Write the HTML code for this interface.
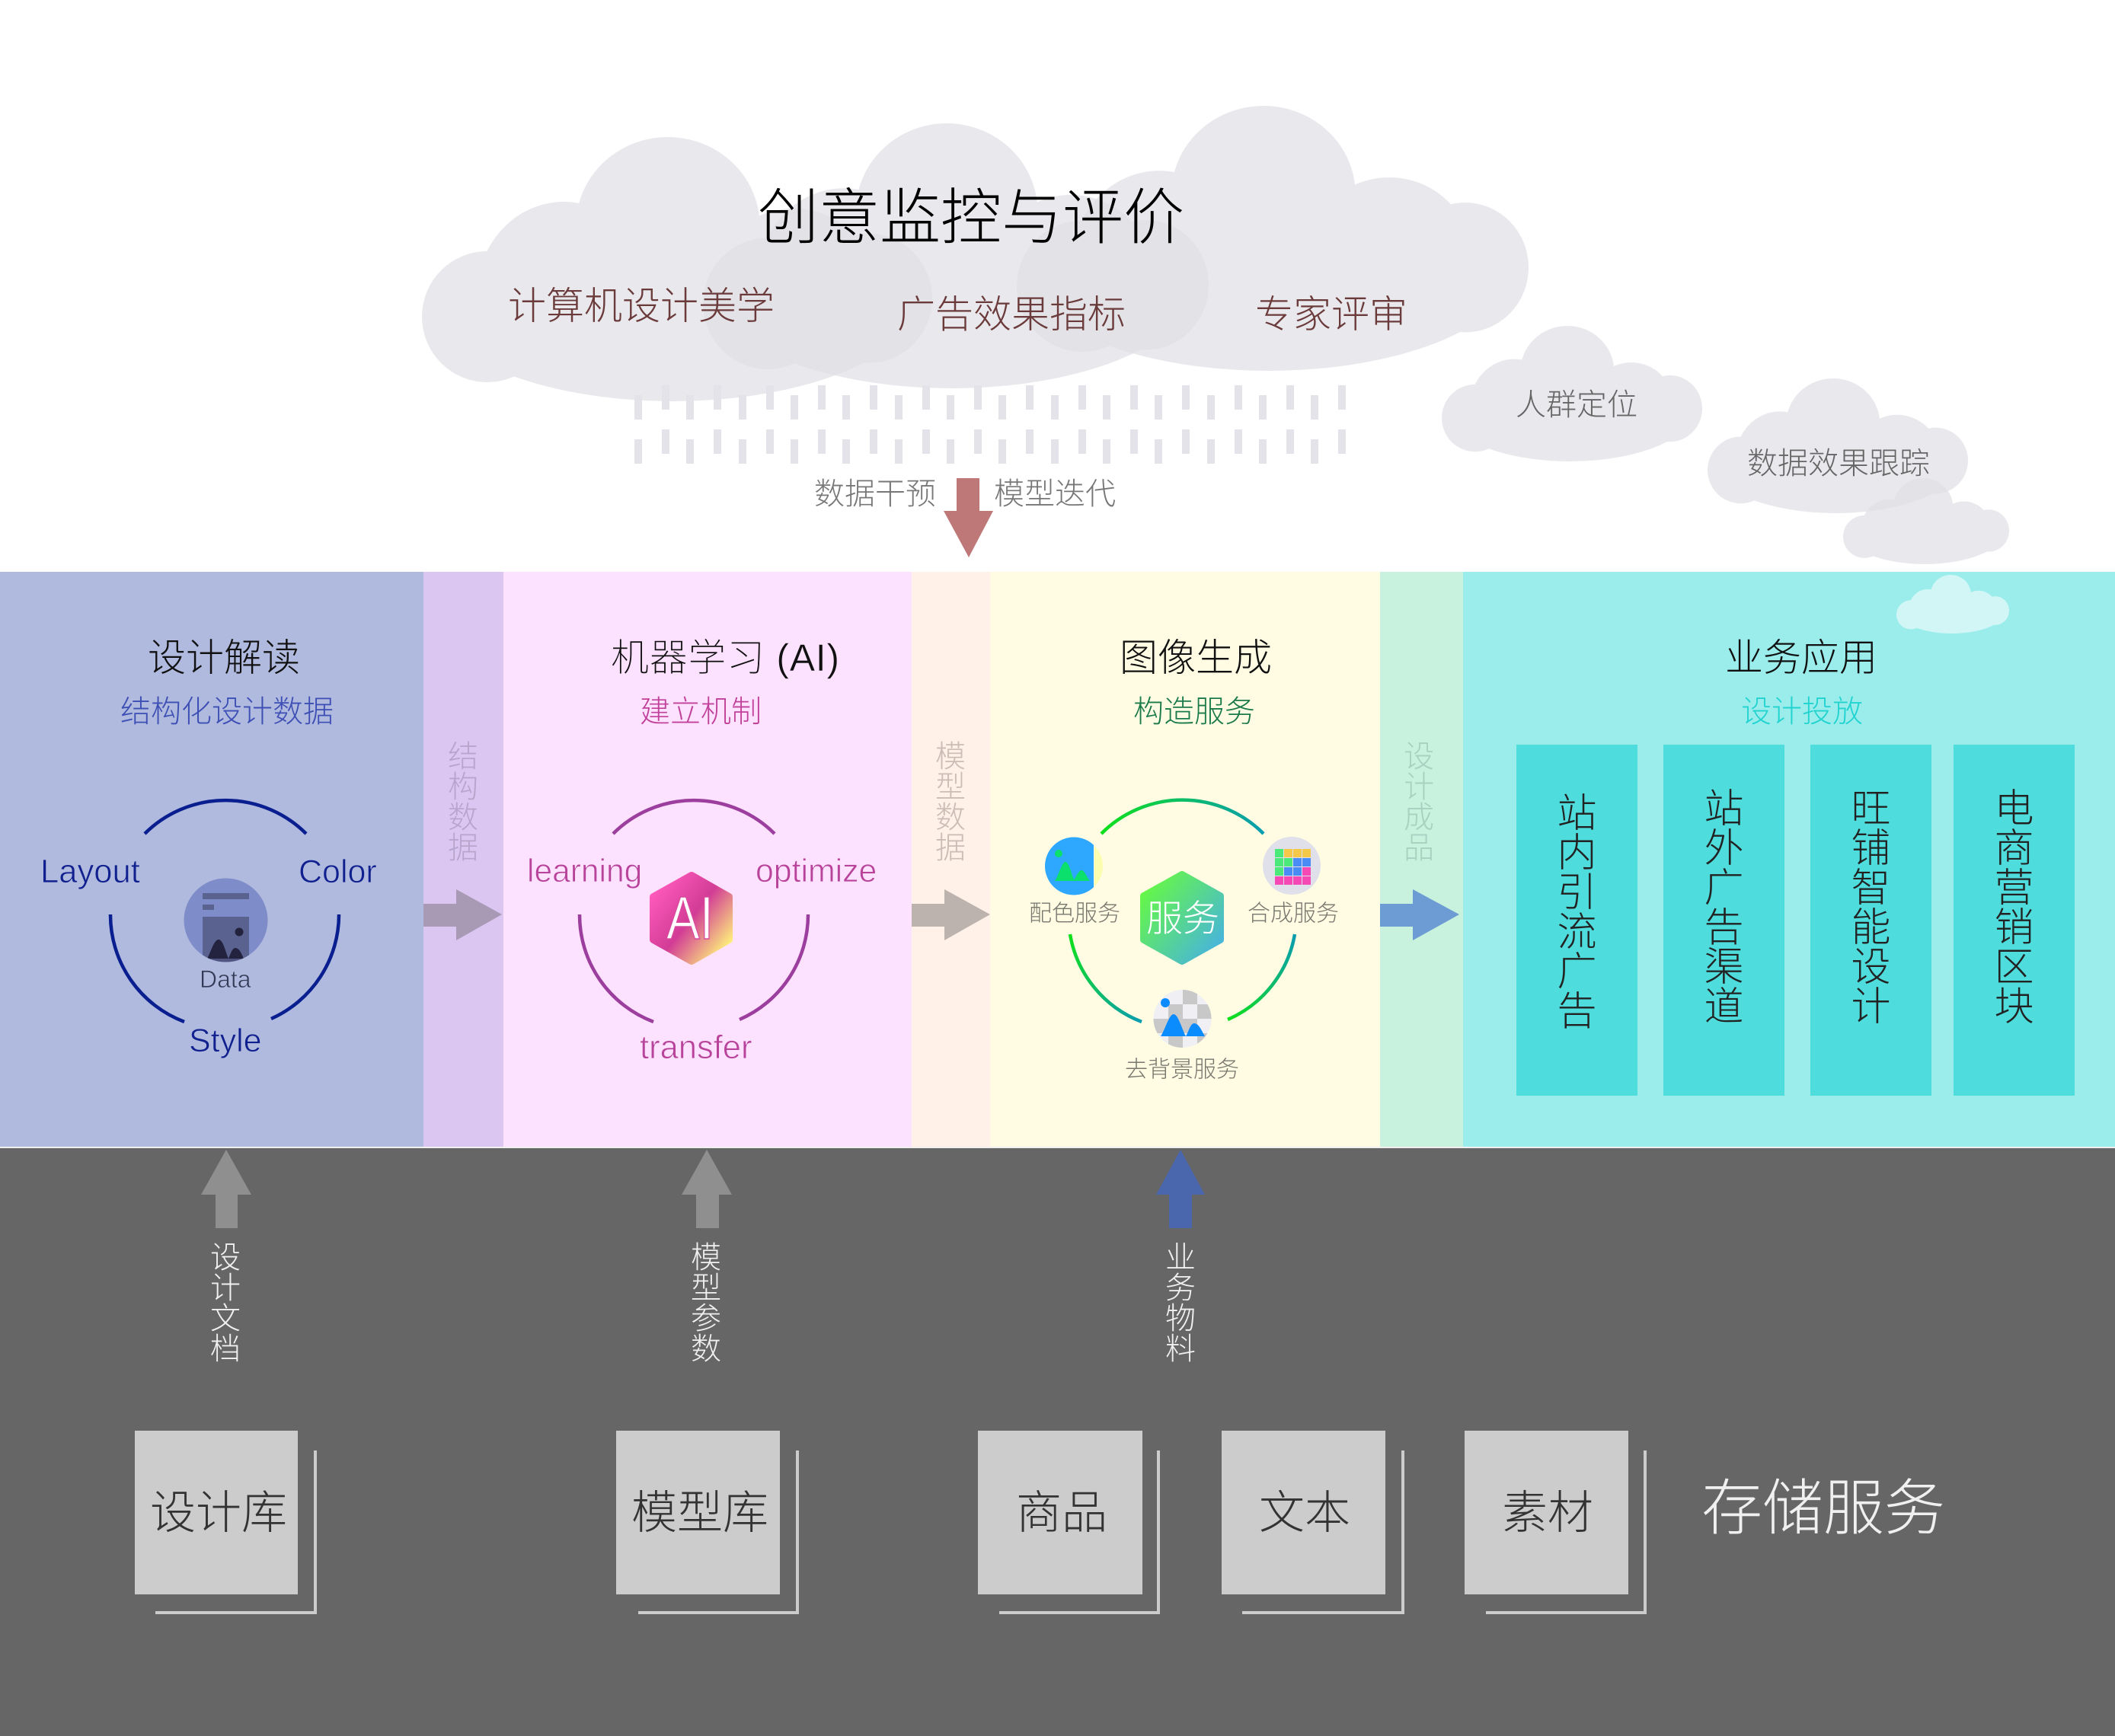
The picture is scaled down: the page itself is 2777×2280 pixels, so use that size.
<!DOCTYPE html>
<html><head><meta charset="utf-8"><style>
html,body{margin:0;padding:0;background:#fff}
svg{display:block}
text{font-family:"Liberation Sans","Noto Sans CJK SC","WenQuanYi Zen Hei",sans-serif;font-weight:300}
.m{text-anchor:middle;dominant-baseline:central}
.v{writing-mode:vertical-rl;text-anchor:start;dominant-baseline:central}
</style></head><body>
<svg xmlns="http://www.w3.org/2000/svg" width="2777" height="2280" viewBox="0 0 2777 2280">
<defs>
<symbol id="c" viewBox="0 0 1000 1000" preserveAspectRatio="none">
<ellipse cx="482" cy="335" rx="180" ry="335"/><ellipse cx="278" cy="595" rx="170" ry="350"/><ellipse cx="128" cy="680" rx="128" ry="248"/><ellipse cx="728" cy="570" rx="160" ry="300"/><ellipse cx="876" cy="610" rx="124" ry="245"/><path d="M8 600A484 400 0 0 0 976 600Z"/>
</symbol>
<linearGradient id="ai" x1="0.05" y1="0.1" x2="0.95" y2="0.9"><stop offset="0" stop-color="#ff5bbd"/><stop offset=".5" stop-color="#d23c96"/><stop offset="1" stop-color="#fff47a"/></linearGradient>
<linearGradient id="sv" x1="0.05" y1="0.1" x2="0.95" y2="0.9"><stop offset="0" stop-color="#66f845"/><stop offset="1" stop-color="#48b4dc"/></linearGradient>
<linearGradient id="a1" x1="0" y1="0" x2="1" y2="0"><stop offset="0" stop-color="#0fe01c"/><stop offset="1" stop-color="#0a9cb0"/></linearGradient>
<linearGradient id="a2" x1="0" y1="0" x2="1" y2="1"><stop offset="0" stop-color="#0fe01c"/><stop offset="1" stop-color="#0a9cb0"/></linearGradient>
<linearGradient id="a3" x1="1" y1="0" x2="0" y2="1"><stop offset="0" stop-color="#0a9cb0"/><stop offset="1" stop-color="#0fe01c"/></linearGradient>
<clipPath id="cd"><circle cx="296.5" cy="1208.5" r="55"/></clipPath>
<clipPath id="c1"><circle cx="1410" cy="1137.5" r="38"/></clipPath>
<clipPath id="c3"><circle cx="1552.5" cy="1338" r="38"/></clipPath>
</defs>

<rect width="2777" height="2280" fill="#fff"/>

<!-- clouds -->
<g fill="#dfdfe5">
<use href="#c" x="554" y="180" width="670" height="347" opacity=".68"/>
<use href="#c" x="923" y="162" width="664" height="348" opacity=".68"/>
<use href="#c" x="1335" y="139" width="672" height="348" opacity=".68"/>
<use href="#c" x="1893" y="428" width="342" height="178" opacity=".68"/>
<use href="#c" x="2242" y="497" width="342" height="177" opacity=".68"/>
<use href="#c" x="2420" y="628" width="218" height="113" opacity=".68"/>
</g>

<!-- rain -->
<g fill="#e3e3e9">
<rect x="833" y="519" width="10" height="32"/><rect x="901" y="519" width="10" height="32"/><rect x="970" y="519" width="10" height="32"/><rect x="1038" y="519" width="10" height="32"/><rect x="1106" y="519" width="10" height="32"/><rect x="1175" y="519" width="10" height="32"/><rect x="1243" y="519" width="10" height="32"/><rect x="1311" y="519" width="10" height="32"/><rect x="1380" y="519" width="10" height="32"/><rect x="1448" y="519" width="10" height="32"/><rect x="1516" y="519" width="10" height="32"/><rect x="1585" y="519" width="10" height="32"/><rect x="1653" y="519" width="10" height="32"/><rect x="1721" y="519" width="10" height="32"/>
<rect x="869" y="506" width="10" height="32"/><rect x="937" y="506" width="10" height="32"/><rect x="1006" y="506" width="10" height="32"/><rect x="1074" y="506" width="10" height="32"/><rect x="1142" y="506" width="10" height="32"/><rect x="1211" y="506" width="10" height="32"/><rect x="1279" y="506" width="10" height="32"/><rect x="1347" y="506" width="10" height="32"/><rect x="1416" y="506" width="10" height="32"/><rect x="1484" y="506" width="10" height="32"/><rect x="1552" y="506" width="10" height="32"/><rect x="1621" y="506" width="10" height="32"/><rect x="1689" y="506" width="10" height="32"/><rect x="1757" y="506" width="10" height="32"/>
<rect x="833" y="577" width="10" height="32"/><rect x="901" y="577" width="10" height="32"/><rect x="970" y="577" width="10" height="32"/><rect x="1038" y="577" width="10" height="32"/><rect x="1106" y="577" width="10" height="32"/><rect x="1175" y="577" width="10" height="32"/><rect x="1243" y="577" width="10" height="32"/><rect x="1311" y="577" width="10" height="32"/><rect x="1380" y="577" width="10" height="32"/><rect x="1448" y="577" width="10" height="32"/><rect x="1516" y="577" width="10" height="32"/><rect x="1585" y="577" width="10" height="32"/><rect x="1653" y="577" width="10" height="32"/><rect x="1721" y="577" width="10" height="32"/>
<rect x="869" y="564" width="10" height="32"/><rect x="937" y="564" width="10" height="32"/><rect x="1006" y="564" width="10" height="32"/><rect x="1074" y="564" width="10" height="32"/><rect x="1142" y="564" width="10" height="32"/><rect x="1211" y="564" width="10" height="32"/><rect x="1279" y="564" width="10" height="32"/><rect x="1347" y="564" width="10" height="32"/><rect x="1416" y="564" width="10" height="32"/><rect x="1484" y="564" width="10" height="32"/><rect x="1552" y="564" width="10" height="32"/><rect x="1621" y="564" width="10" height="32"/><rect x="1689" y="564" width="10" height="32"/><rect x="1757" y="564" width="10" height="32"/>
</g>

<!-- top texts -->
<text class="m" x="1275" y="286" font-size="80" fill="#000">创意监控与评价</text>
<text class="m" x="842" y="402" font-size="50" fill="#6b3a3a">计算机设计美学</text>
<text class="m" x="1328" y="413" font-size="50" fill="#6b3a3a">广告效果指标</text>
<text class="m" x="1748" y="413" font-size="50" fill="#6b3a3a">专家评审</text>
<text class="m" x="2070" y="532" font-size="40" fill="#666">人群定位</text>
<text class="m" x="2414" y="609" font-size="40" fill="#666">数据效果跟踪</text>
<text class="m" x="1149" y="649" font-size="40" fill="#777">数据干预</text>
<text class="m" x="1385" y="649" font-size="40" fill="#777">模型迭代</text>
<polygon points="1256,628 1286,628 1286,671 1304,671 1272,732 1239,671 1256,671" fill="#bf7878"/>

<!-- bands -->
<rect x="0" y="751" width="556" height="755" fill="#b0b9de"/>
<rect x="556" y="751" width="105" height="755" fill="#dac6f0"/>
<rect x="661" y="751" width="536" height="755" fill="#fde2ff"/>
<rect x="1197" y="751" width="103" height="755" fill="#fff0e8"/>
<rect x="1300" y="751" width="512" height="755" fill="#fffce3"/>
<rect x="1812" y="751" width="109" height="755" fill="#c8f2dd"/>
<rect x="1921" y="751" width="856" height="755" fill="#9bedec"/>
<use href="#c" x="2490" y="755" width="148" height="77" fill="#fff" opacity=".55"/>
<rect x="0" y="1506" width="2777" height="2" fill="#f0f0f0"/>
<rect x="0" y="1508" width="2777" height="772" fill="#666"/>

<!-- panel titles -->
<text class="m" x="294" y="864" font-size="50" fill="#111">设计解读</text>
<text class="m" x="298" y="935" font-size="40" fill="#3d4fb5">结构化设计数据</text>
<text class="m" x="952" y="864" font-size="50" fill="#111" textLength="300" stroke="#fde2ff" stroke-width=".5">机器学习 (AI)</text>
<text class="m" x="920" y="935" font-size="40" fill="#c0409a">建立机制</text>
<text class="m" x="1570" y="864" font-size="50" fill="#111">图像生成</text>
<text class="m" x="1568" y="935" font-size="40" fill="#1a7a4a">构造服务</text>
<text class="m" x="2365" y="864" font-size="50" fill="#111">业务应用</text>
<text class="m" x="2366" y="935" font-size="40" fill="#22d3d0">设计投放</text>

<!-- band vertical labels and arrows -->
<text class="v" x="604" y="972" font-size="40" fill="#b8a5cc">结构数据</text>
<text class="v" x="1244" y="972" font-size="40" fill="#c9bdb5">模型数据</text>
<text class="v" x="1859" y="972" font-size="40" fill="#a7d1c0">设计成品</text>
<polygon points="556,1187 599,1187 599,1168 659,1201 599,1235 599,1217 556,1217" fill="#a89ab5"/>
<polygon points="1197,1187 1240,1187 1240,1168 1300,1201 1240,1235 1240,1217 1197,1217" fill="#bcb3ae"/>
<polygon points="1812,1187 1855,1187 1855,1168 1916,1201 1855,1235 1855,1217 1812,1217" fill="#6d9bd3"/>

<!-- panel 1 -->
<g fill="none" stroke="#0a1f8f" stroke-width="4.5">
<path d="M190 1095A150 150 0 0 1 402 1095"/><path d="M145 1201A150 150 0 0 0 242 1342"/><path d="M445 1201A150 150 0 0 1 356 1338"/>
</g>
<circle cx="296.5" cy="1208.5" r="55" fill="#7e8cc9"/>
<g clip-path="url(#cd)">
<rect x="266" y="1173" width="61" height="8" fill="#5a6290"/><rect x="266" y="1188" width="15" height="7" fill="#5a6290"/><rect x="266" y="1204" width="61" height="56" fill="#5a6290"/>
<rect x="266" y="1259" width="61" height="6" fill="#4f5580"/>
<circle cx="314" cy="1224" r="5.5" fill="#23233f"/>
<path d="M272 1259C277 1250 281 1234 287 1234C293 1234 296 1250 300 1259Z" fill="#23233f"/><path d="M300 1259C303 1252 305 1245 309 1245C314 1245 317 1252 320 1259Z" fill="#23233f"/>
</g>
<g stroke="#b0b9de" stroke-width=".8">
<text x="53" y="1159" font-size="43.6" fill="#10218f">Layout</text>
<text x="392" y="1159" font-size="43" fill="#10218f">Color</text>
<text x="248" y="1381" font-size="43" fill="#10218f">Style</text>
<text x="262" y="1297" font-size="32" fill="#333a55" stroke-width=".7">Data</text>
</g>

<!-- panel 2 -->
<g fill="none" stroke="#9c3e9e" stroke-width="4.5">
<path d="M805 1095A150 150 0 0 1 1017 1095"/><path d="M761 1201A150 150 0 0 0 858 1342"/><path d="M1061 1201A150 150 0 0 1 971 1339"/>
</g>
<polygon points="908,1150 957,1178 957,1234 908,1262 858,1234 858,1178" fill="url(#ai)" stroke="url(#ai)" stroke-width="10" stroke-linejoin="round"/>
<text x="875" y="1233" font-size="80" fill="#fff" textLength="62" lengthAdjust="spacingAndGlyphs" stroke="#d84a9c" stroke-width="1.5">AI</text>
<g stroke="#fde2ff" stroke-width=".8" fill="#b8439a">
<text x="692" y="1158" font-size="42.5">learning</text>
<text x="992" y="1158" font-size="42.8">optimize</text>
<text x="840" y="1390" font-size="43.5">transfer</text>
</g>

<!-- panel 3 -->
<g fill="none" stroke-width="4.5">
<path d="M1446 1095A150 150 0 0 1 1659 1095" stroke="url(#a1)"/><path d="M1405 1227A150 150 0 0 0 1499 1342" stroke="url(#a2)"/><path d="M1700 1227A150 150 0 0 1 1612 1339" stroke="url(#a3)"/>
</g>
<polygon points="1552,1149 1602,1177 1602,1234 1552,1262 1502,1234 1502,1177" fill="url(#sv)" stroke="url(#sv)" stroke-width="10" stroke-linejoin="round"/>
<text class="m" x="1553" y="1207" font-size="48" fill="#fff">服务</text>
<g clip-path="url(#c1)">
<rect x="1372" y="1099" width="64" height="77" fill="#2ea8ff"/><rect x="1437" y="1099" width="12" height="77" fill="#fdfdb0"/>
<circle cx="1390" cy="1121" r="5" fill="#0bdf6c"/>
<path d="M1385 1157C1390 1150 1394 1132 1399 1132C1404 1132 1407 1150 1411 1157Z" fill="#0bdf6c"/><path d="M1409 1157C1413 1152 1416 1143 1420 1143C1424 1143 1427 1152 1431 1157Z" fill="#0bdf6c"/>
</g>
<circle cx="1696" cy="1137" r="38" fill="#e0e0ea"/>
<g>
<rect x="1674" y="1115" width="11" height="11" fill="#4be87a"/><rect x="1686" y="1115" width="11" height="11" fill="#f5c84a"/><rect x="1698" y="1115" width="11" height="11" fill="#f5c84a"/><rect x="1710" y="1115" width="11" height="11" fill="#f5c84a"/>
<rect x="1674" y="1127" width="11" height="11" fill="#4be87a"/><rect x="1686" y="1127" width="11" height="11" fill="#4be87a"/><rect x="1698" y="1127" width="11" height="11" fill="#4a8cf5"/><rect x="1710" y="1127" width="11" height="11" fill="#4a8cf5"/>
<rect x="1674" y="1139" width="11" height="11" fill="#4be87a"/><rect x="1686" y="1139" width="11" height="11" fill="#4a8cf5"/><rect x="1698" y="1139" width="11" height="11" fill="#4a8cf5"/><rect x="1710" y="1139" width="11" height="11" fill="#f54ab5"/>
<rect x="1674" y="1151" width="11" height="11" fill="#f54ab5"/><rect x="1686" y="1151" width="11" height="11" fill="#f54ab5"/><rect x="1698" y="1151" width="11" height="11" fill="#f54ab5"/><rect x="1710" y="1151" width="11" height="11" fill="#f54ab5"/>
</g>
<g clip-path="url(#c3)">
<rect x="1514" y="1300" width="77" height="76" fill="#f0f0f4"/>
<g fill="#c8c8c8"><rect x="1553" y="1300" width="19" height="19"/><rect x="1534" y="1319" width="19" height="19"/><rect x="1572" y="1319" width="19" height="19"/><rect x="1514" y="1338" width="58" height="19"/><rect x="1534" y="1357" width="19" height="19"/><rect x="1572" y="1357" width="19" height="19"/></g>
<circle cx="1530" cy="1317" r="6" fill="#0a8cff"/>
<path d="M1524 1361C1530 1352 1535 1332 1541 1332C1547 1332 1552 1352 1557 1361Z" fill="#0a8cff"/><path d="M1557 1361C1561 1354 1563 1344 1568 1344C1574 1344 1578 1354 1582 1361Z" fill="#0a8cff"/>
</g>
<text class="m" x="1411" y="1200" font-size="30" fill="#77776e">配色服务</text>
<text class="m" x="1698" y="1200" font-size="30" fill="#77776e">合成服务</text>
<text class="m" x="1552" y="1405" font-size="30" fill="#77776e">去背景服务</text>

<!-- panel 4 -->
<g fill="#4edcdc">
<rect x="1991" y="978" width="159" height="461"/><rect x="2184" y="978" width="159" height="461"/><rect x="2377" y="978" width="159" height="461"/><rect x="2565" y="978" width="159" height="461"/>
</g>
<text class="v" x="2065" y="1040" font-size="52" fill="#222">站内引流广告</text>
<text class="v" x="2258" y="1034" font-size="52" fill="#222">站外广告渠道</text>
<text class="v" x="2451" y="1034" font-size="52" fill="#222">旺铺智能设计</text>
<text class="v" x="2639" y="1034" font-size="52" fill="#222">电商营销区块</text>

<!-- up arrows -->
<polygon points="297,1510 330,1569 312,1569 312,1613 283,1613 283,1569 264,1569" fill="#8f8f8f"/>
<polygon points="928,1510 961,1569 944,1569 944,1613 914,1613 914,1569 895,1569" fill="#8f8f8f"/>
<polygon points="1550,1510 1582,1569 1565,1569 1565,1613 1535,1613 1535,1569 1518,1569" fill="#4a66ad"/>
<text class="v" x="292" y="1630" font-size="40" fill="#f0f0f0">设计文档</text>
<text class="v" x="923" y="1630" font-size="40" fill="#f0f0f0">模型参数</text>
<text class="v" x="1546" y="1630" font-size="40" fill="#f0f0f0">业务物料</text>

<!-- store boxes -->
<g fill="#ccc">
<rect x="177" y="1879" width="214" height="215"/><rect x="809" y="1879" width="215" height="215"/><rect x="1284" y="1879" width="216" height="215"/><rect x="1604" y="1879" width="215" height="215"/><rect x="1923" y="1879" width="215" height="215"/>
</g>
<g fill="none" stroke="#ccc" stroke-width="4">
<path d="M204 2118H414V1905"/><path d="M838 2118H1047V1905"/><path d="M1312 2118H1521V1905"/><path d="M1631 2118H1842V1905"/><path d="M1951 2118H2160V1905"/>
</g>
<text class="m" x="287" y="1987" font-size="60" fill="#333">设计库</text>
<text class="m" x="919" y="1987" font-size="60" fill="#333">模型库</text>
<text class="m" x="1394" y="1987" font-size="60" fill="#333">商品</text>
<text class="m" x="1713" y="1987" font-size="60" fill="#333">文本</text>
<text class="m" x="2032" y="1987" font-size="60" fill="#333">素材</text>
<text class="m" x="2394" y="1981" font-size="80" fill="#f0f0f0">存储服务</text>
</svg>
</body></html>
